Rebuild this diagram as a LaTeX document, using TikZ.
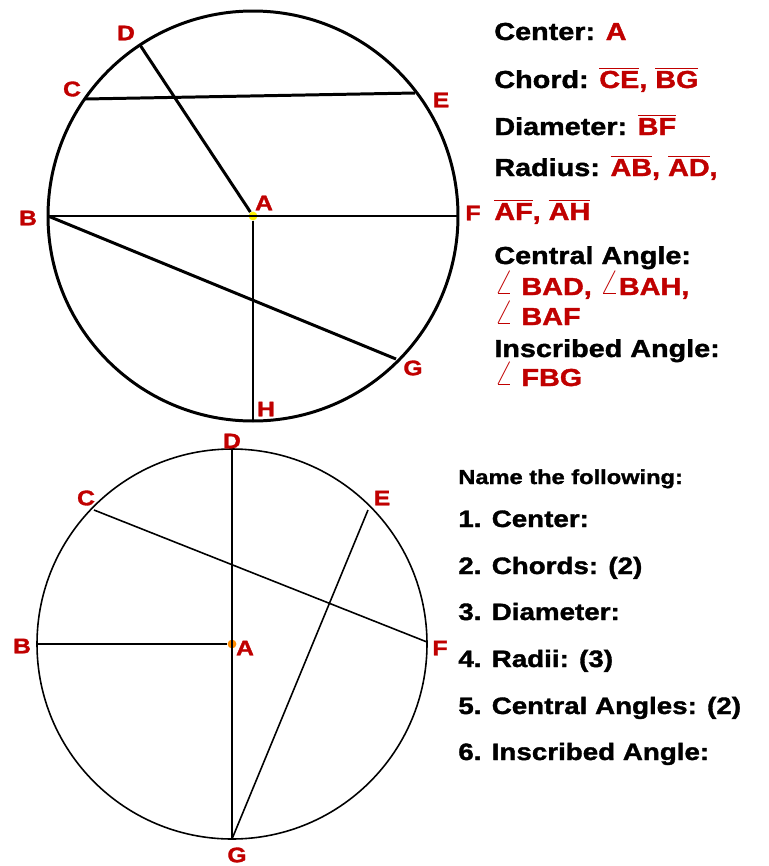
\documentclass[tikz,border=0pt]{standalone}
\usepackage{fontspec}
\setmainfont{Liberation Sans}
\newfontfamily\widefont[FakeStretch=1.17, FakeBold=1.5]{Liberation Sans Bold}
\definecolor{lblred}{RGB}{192,0,0}
\newcommand{\segm}[1]{$\overline{\mbox{#1}}$}
\newcommand{\ang}{\raisebox{0.1ex}{\scalebox{1.4}{$\angle$}}}
\tikzset{
  pt/.style={circle, fill=#1, inner sep=0pt, minimum size=5pt},
  lbl/.style={text=lblred, font=\widefont\fontsize{12}{12}\selectfont},
  info/.style={anchor=base west, font=\widefont\fontsize{14}{14}\selectfont, inner sep=0pt},
  quiz/.style={anchor=base west, font=\widefont\fontsize{13.5}{13.5}\selectfont, inner sep=0pt}
}
\begin{document}
\begin{tikzpicture}[x=0.02cm, y=-0.02cm]
\useasboundingbox (0,0) rectangle (768,866);
% Top circle
\draw[line width=1.7pt] (253,216) circle (205);
\node[pt=yellow] (A) at (253,216) {};
\coordinate (B) at (48,216);
\coordinate (F) at (458,216);
\coordinate (D) at (140,45);
\coordinate (C) at (85,99);
\coordinate (E) at (415,93);
\coordinate (G) at (396,359);
\coordinate (H) at (253,421);
\draw[line width=1.7pt] (C) -- (E);
\draw[line width=1.7pt] (B) -- (F);
\draw[line width=1.7pt] (B) -- (G);
\draw[line width=1.7pt] (A) -- (D);
\draw[line width=1.7pt] (A) -- (H);
\node[lbl] at (126,33) {D};
\node[lbl] at (72,89) {C};
\node[lbl] at (441,100) {E};
\node[lbl] at (28,218) {B};
\node[lbl] at (473,213) {F};
\node[lbl] at (264,203) {A};
\node[lbl] at (413,368) {G};
\node[lbl] at (266,409) {H};
% Top text
\node[info] (t1) at (494,40) {Center: \textcolor{lblred}{A}};
\node[info] (t2) at (494,88) {Chord: \textcolor{lblred}{\segm{CE}, \segm{BG}}};
\node[info] (t3) at (494,135) {Diameter: \textcolor{lblred}{\segm{BF}}};
\node[info] (t4) at (494,176) {Radius: \textcolor{lblred}{\segm{AB}, \segm{AD},}};
\node[info] (t5) at (494,220) {\textcolor{lblred}{\segm{AF}, \segm{AH}}};
\node[info] (t6) at (494,264) {Central Angle:};
\node[info] (t7) at (494,295) {\textcolor{lblred}{\ang\ BAD, \ang BAH,}};
\node[info] (t8) at (494,325) {\textcolor{lblred}{\ang\ BAF}};
\node[info] (t9) at (494,357) {Inscribed Angle:};
\node[info] (t10) at (494,386) {\textcolor{lblred}{\ang\ FBG}};
% Bottom circle
\draw[line width=0.9pt] (232,644) circle (195);
\node[pt=orange!90!yellow] (a) at (232,644) {};
\coordinate (b) at (37,644);
\coordinate (d) at (232,449);
\coordinate (g) at (232,839);
\coordinate (c) at (94,510);
\coordinate (f) at (427,642);
\coordinate (e) at (368,510);
\draw[line width=0.9pt] (d) -- (g);
\draw[line width=0.9pt] (b) -- (a);
\draw[line width=0.9pt] (c) -- (f);
\draw[line width=0.9pt] (e) -- (g);
\node[lbl] at (232,441) {D};
\node[lbl] at (86,498) {C};
\node[lbl] at (382,498) {E};
\node[lbl] at (22,646) {B};
\node[lbl] at (440,648) {F};
\node[lbl] at (245,648) {A};
\node[lbl] at (237,855) {G};
% Bottom text
\node[quiz, font=\widefont\fontsize{11.5}{11.5}\selectfont] (q0) at (458,484) {Name the following:};
\node[quiz] (q1) at (458,527) {1. Center:};
\node[quiz] (q2) at (458,574) {2. Chords: (2)};
\node[quiz] (q3) at (458,620) {3. Diameter:};
\node[quiz] (q4) at (458,667) {4. Radii: (3)};
\node[quiz] (q5) at (458,714) {5. Central Angles: (2)};
\node[quiz] (q6) at (458,760) {6. Inscribed Angle:};
\end{tikzpicture}
\end{document}
